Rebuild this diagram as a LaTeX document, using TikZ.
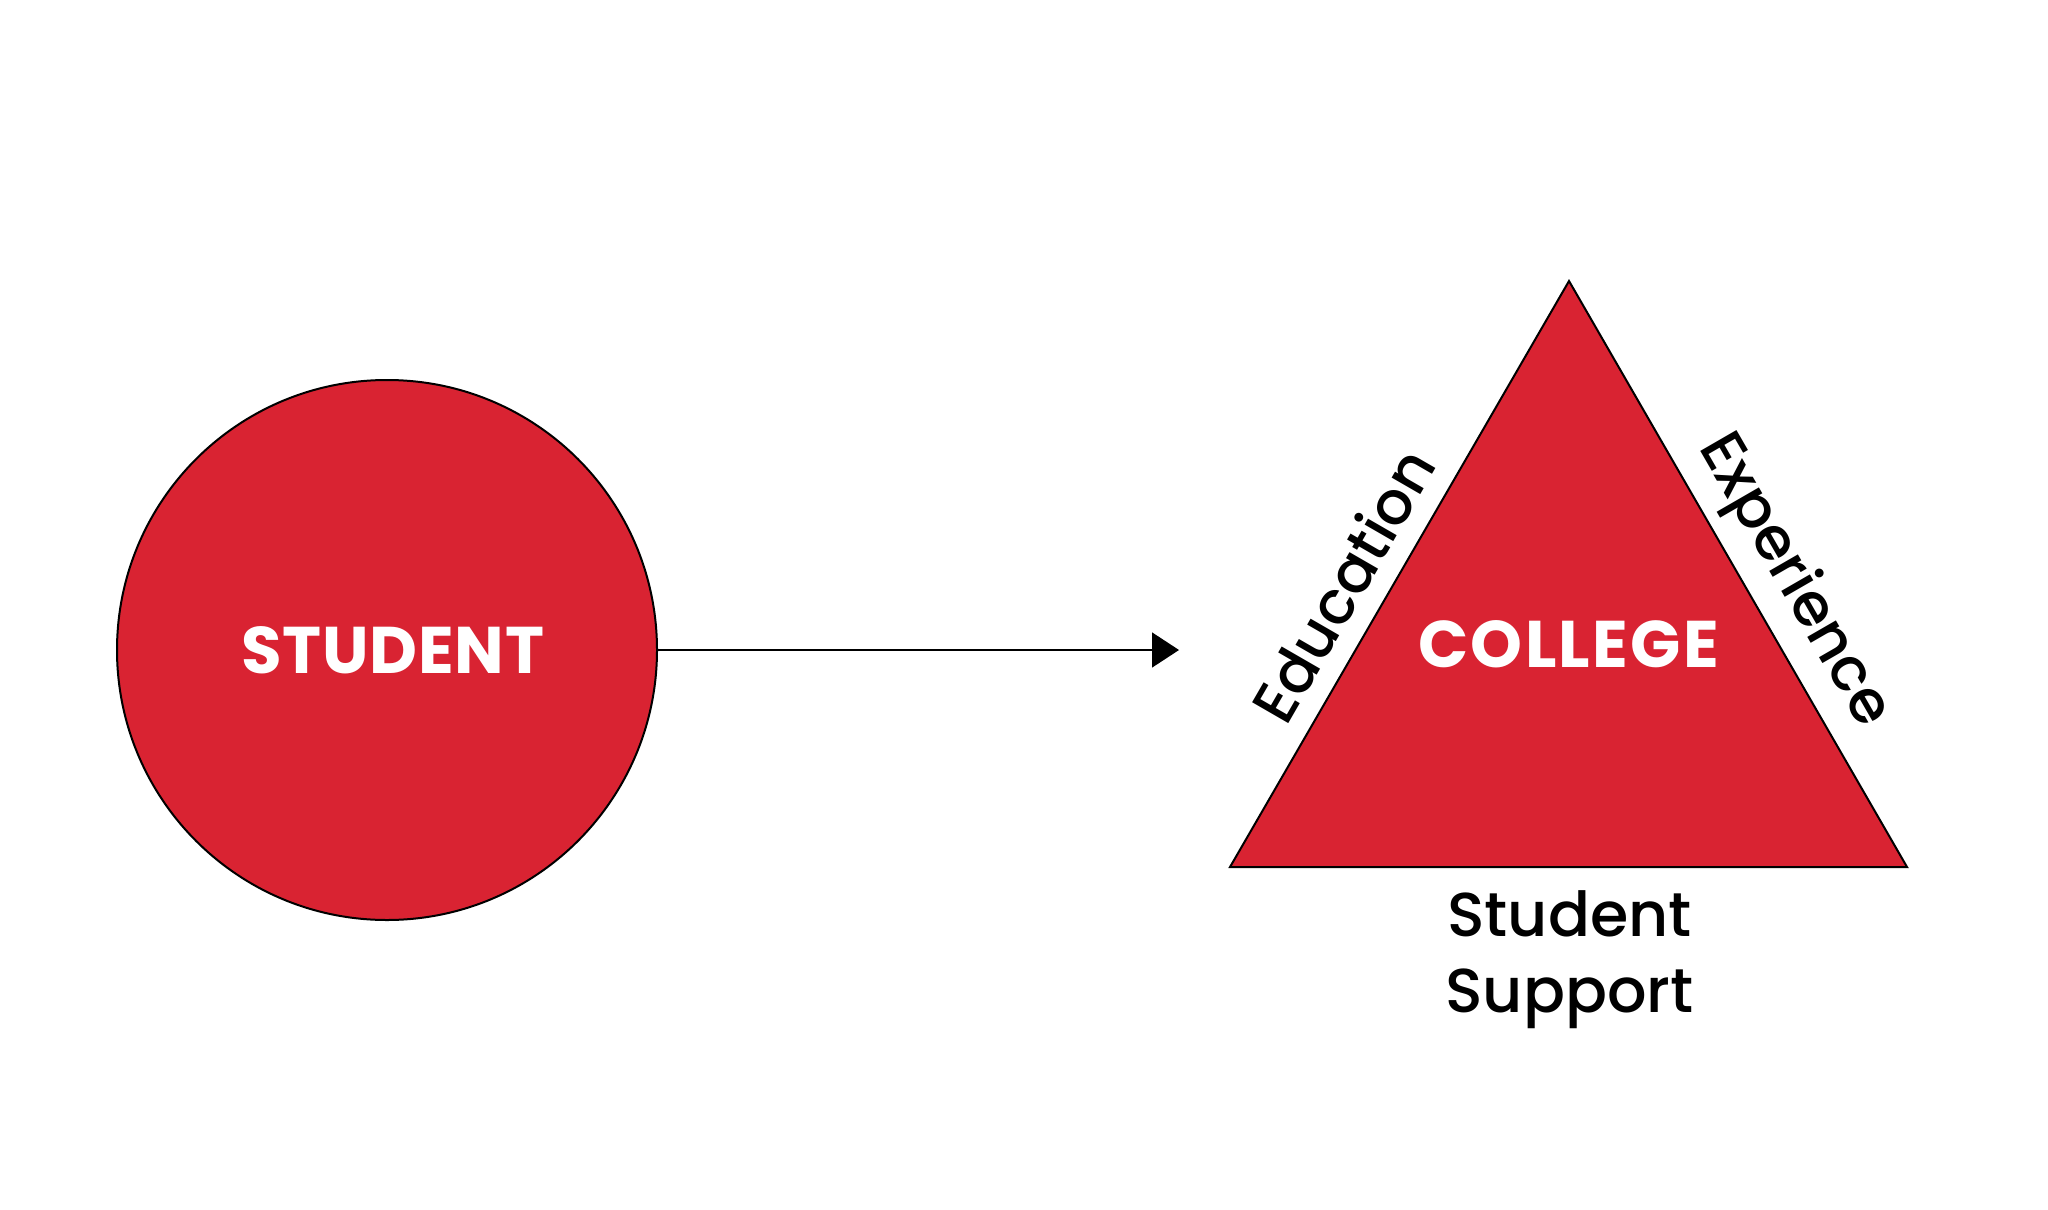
\documentclass[tikz,border=0pt]{standalone}
\usepackage{fontspec}
\setmainfont{Poppins}
\newfontfamily\popmed{Poppins Medium}
\usetikzlibrary{arrows.meta}
\definecolor{cred}{RGB}{217,35,50}
\tikzset{
  shapeline/.style={draw=black, line width=1pt, fill=cred},
  bigwhite/.style={text=white, inner sep=0pt, font=\fontsize{33}{38}\selectfont\bfseries},
  sidelabel/.style={text=black, inner sep=0pt, font=\popmed\fontsize{30}{37.5}\selectfont},
}
\begin{document}
\begin{tikzpicture}[x=0.5pt,y=-0.5pt]
\useasboundingbox (0,0) rectangle (2048,1209);
\fill[white] (0,0) rectangle (2048,1209);
% student circle
\node[circle, shapeline, minimum size=270pt, inner sep=0pt] (student) at (387,650) {};
\node[bigwhite] (studentlbl) at ([xshift=3pt]student.center) {\addfontfeature{LetterSpace=1}STUDENT};
% triangle
\coordinate (apex) at (1569,281);
\coordinate (bl) at (1230,867);
\coordinate (br) at (1907,867);
\draw[shapeline, line join=miter] (apex) -- (br) -- (bl) -- cycle;
\node[bigwhite] (college) at (1568.6,644.5) {\addfontfeature{LetterSpace=3.5}COLLEGE};
% arrow
\coordinate (tip) at (1179,650);
\draw[line width=0.75pt, -{Triangle[length=13.5pt,width=17.5pt]}] (student.east) -- (tip);
% side labels
\node[sidelabel, rotate=60] (edu) at (1342.7,585) {Education};
\node[sidelabel, rotate=-60] (exp) at (1793,581) {Experience};
\node[sidelabel, align=center, font=\popmed\fontsize{31}{38}\selectfont] (support) at (1569.5,960) {Student\\Support};
\end{tikzpicture}
\end{document}
